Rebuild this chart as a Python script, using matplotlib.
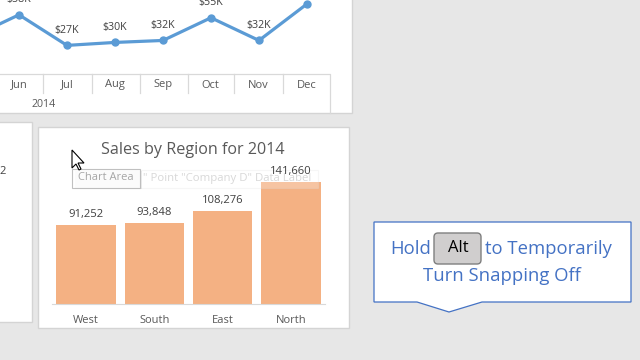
import matplotlib
matplotlib.use("Agg")
import matplotlib.pyplot as plt
from matplotlib.patches import Rectangle, FancyBboxPatch, Polygon

# --- DATA ---
months = ["May", "Jun", "Jul", "Aug", "Sep", "Oct", "Nov", "Dec"]
month_sales = [35, 58, 27, 30, 32, 55, 32, 69]
month_labels = ["$35K", "$58K", "$27K", "$30K", "$32K", "$55K", "$32K", "$69K"]

regions = ["West", "South", "East", "North"]
region_sales = [91252, 93848, 108276, 141660]

BLUE = "#5b9bd5"
ORANGE = "#f4b183"
GRID = "#d9d9d9"
TEXT = "#595959"
DARK = "#404040"
NOTE = "#4472c4"

plt.rcParams["font.family"] = ["Open Sans", "DejaVu Sans"]

W, H = 640, 360
fig = plt.figure(figsize=(6.4, 3.6), dpi=100, facecolor="#e7e7e7")


def px_axes(left, top, right, bottom):
    # axes placed with pixel edges, y counted from the top of the image
    ax = fig.add_axes([left / W, 1 - bottom / H, (right - left) / W, (bottom - top) / H])
    ax.patch.set_alpha(0)
    return ax


# --- BACKGROUND PANELS ---
bg = px_axes(0, 0, W, H)
bg.set_xlim(0, W)
bg.set_ylim(H, 0)
bg.axis("off")

for x, y, w, h in [(-5, -5, 357, 118), (-5, 122, 37, 200), (38, 127, 311, 201)]:
    bg.add_patch(Rectangle((x, y), w, h, fc="white", ec="#d4d4d4", lw=1))

# month table below the line chart
bg.plot([0, 330, 330], [74, 74, 113], color=GRID, lw=0.9)
for x in [43, 92, 140, 188, 234, 283]:
    bg.plot([x, x], [74, 93], color=GRID, lw=0.9)
bg.text(44, 104.5, "2014", fontsize=7.7, color=TEXT, ha="center", va="center")
bg.text(-1, 172, "2", fontsize=8, color=DARK, ha="left", va="center")

# --- LINE CHART ---
ax1 = px_axes(0, 0, 330, 74)
ax1.set_xlim(0.604, 7.48)
ax1.set_ylim(-2, 73)
ax1.axis("off")
xs = list(range(len(months)))
ax1.plot(xs, month_sales, color=BLUE, lw=2.3, marker="o", ms=5, clip_on=False)
for i in xs:
    if i == 0:
        continue
    ax1.annotate(month_labels[i], (xs[i], month_sales[i]), xytext=(0, 7), textcoords="offset points",
                 ha="center", va="bottom", fontsize=7.7, color=DARK, annotation_clip=False, clip_on=True)
    bg.text(19 + (i - 1) * 47.9, 85, months[i], fontsize=8, color=TEXT, ha="center", va="center")

# --- BAR CHART ---
ax2 = px_axes(52, 168, 325, 304)
ax2.set_xlim(-0.5, 3.5)
ax2.set_ylim(0, 157800)
ax2.bar(range(4), region_sales, width=0.875, color=ORANGE)
for s in ["top", "left", "right"]:
    ax2.spines[s].set_visible(False)
ax2.spines["bottom"].set_color(GRID)
ax2.set_yticks([])
ax2.set_xticks(range(4), regions)
ax2.tick_params(axis="x", length=0, labelsize=8, labelcolor=TEXT, pad=8)

# --- OVERLAYS (title, tooltips, cursor, callout) ---
fg = px_axes(0, 0, W, H)
fg.set_xlim(0, W)
fg.set_ylim(H, 0)
fg.axis("off")

fg.text(193, 149.5, "Sales by Region for 2014", fontsize=11.65, color=TEXT, ha="center", va="center")

# faded tooltip left over from the fade out
fg.add_patch(Rectangle((80, 170), 238, 18, fc="white", ec="#dddddd", lw=0.8, alpha=0.25, zorder=3))
fg.text(143, 179, '" Point "Company D" Data Label', fontsize=8.2, color="#d8d8d8",
        ha="left", va="center", zorder=4)

# value labels sit above the faded tooltip
for i, v in enumerate(region_sales):
    fg.annotate(f"{v:,}", (i, v), xycoords=ax2.transData, xytext=(0, 3.5), textcoords="offset points",
                ha="center", va="bottom", fontsize=8.1, color=DARK, annotation_clip=False, zorder=5)

fg.add_patch(Rectangle((75, 171), 67, 18, fc="#bfbfbf", ec="none", alpha=0.3, zorder=5))
fg.add_patch(Rectangle((72, 169), 68, 18.5, fc="white", ec="#b5b5b5", lw=0.8, alpha=0.85, zorder=6))
fg.text(78, 178, "Chart Area", fontsize=8, color="#a6a6a6", ha="left", va="center", zorder=7)

fg.add_patch(Polygon([(72, 150), (72, 168), (76, 164), (79, 170), (81, 169), (78, 163), (84, 163)],
                     closed=True, fc="white", ec="black", lw=0.8, zorder=8))

fg.add_patch(Polygon([(374, 222), (631, 222), (631, 302), (482, 302), (449, 312), (417, 302), (374, 302)],
                     closed=True, fc="white", ec=NOTE, lw=0.9))
fg.add_patch(FancyBboxPatch((434, 233), 47, 31, boxstyle="round,pad=0,rounding_size=4",
                            fc="#d0cece", ec="#7f7f7f", lw=1, zorder=3))
fg.text(411, 249.5, "Hold", fontsize=13.3, color=NOTE, ha="center", va="center")
fg.text(458, 248, "Alt", fontsize=12, color="black", ha="center", va="center", zorder=4)
fg.text(548.5, 249.5, "to Temporarily", fontsize=13.35, color=NOTE, ha="center", va="center")
fg.text(501.5, 276, "Turn Snapping Off", fontsize=13.3, color=NOTE, ha="center", va="center")

fig.savefig("out.png", dpi=100, facecolor=fig.get_facecolor())
